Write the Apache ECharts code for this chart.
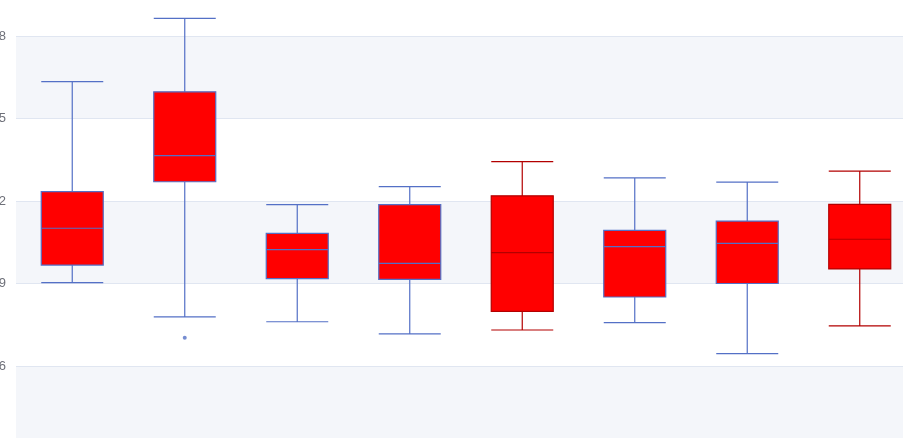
<!DOCTYPE html>
<html>
<head>
<meta charset="utf-8">
<script src="https://cdn.jsdelivr.net/npm/echarts@6/dist/echarts.min.js"></script>
<style>
html,body{margin:0;padding:0;background:#fff;}
#main{width:903px;height:438px;}
</style>
</head>
<body>
<div id="main"></div>
<script>
// box values
var categories = ['0', '1', '2', '3', '4', '5', '6', '7'];
var lowWhisker  = [9.03, 7.79, 7.61, 7.17, 7.31, 7.58, 6.45, 7.46];
var q1          = [9.67, 12.70, 9.18, 9.15, 7.99, 8.51, 9.00, 9.53];
var median      = [11.01, 13.65, 10.23, 9.73, 10.12, 10.34, 10.46, 10.61];
var q3          = [12.34, 15.97, 10.82, 11.87, 12.19, 10.93, 11.27, 11.88];
var highWhisker = [16.34, 18.64, 11.87, 12.52, 13.43, 12.84, 12.69, 13.09];
var redBorder   = [false, false, false, false, true, false, false, true];
var outliers    = [[1, 7.03]];
var yTicks = [3, 21, 3]; // min, max, interval

var boxData = [];
for (var i = 0; i < categories.length; i++) {
    var item = {value: [lowWhisker[i], q1[i], median[i], q3[i], highWhisker[i]]};
    if (redBorder[i]) {
        item.itemStyle = {borderColor: '#b30000'};
    }
    boxData.push(item);
}

var myChart = echarts.init(document.getElementById('main'));
myChart.setOption({
    animation: false,
    grid: {left: 16, right: -13, top: -46.5, bottom: -10.5, containLabel: false, outerBoundsMode: 'none'},
    xAxis: {
        type: 'category',
        data: categories,
        boundaryGap: true,
        axisLabel: {show: false},
        axisTick: {show: false},
        axisLine: {show: false},
        splitLine: {show: false}
    },
    yAxis: {
        type: 'value',
        min: yTicks[0],
        max: yTicks[1],
        interval: yTicks[2],
        axisLabel: {color: '#6e7079', fontSize: 13, margin: 10},
        splitArea: {show: true},
        splitLine: {lineStyle: {color: '#e0e6f1'}}
    },
    series: [
        {
            name: 'boxplot',
            type: 'boxplot',
            boxWidth: [62, 62],
            itemStyle: {color: '#ff0000', borderColor: '#5470c6', borderWidth: 1.2},
            data: boxData
        },
        {
            name: 'outlier',
            type: 'scatter',
            symbolSize: 4,
            itemStyle: {color: '#5470c6'},
            data: outliers
        }
    ]
});
</script>
</body>
</html>
